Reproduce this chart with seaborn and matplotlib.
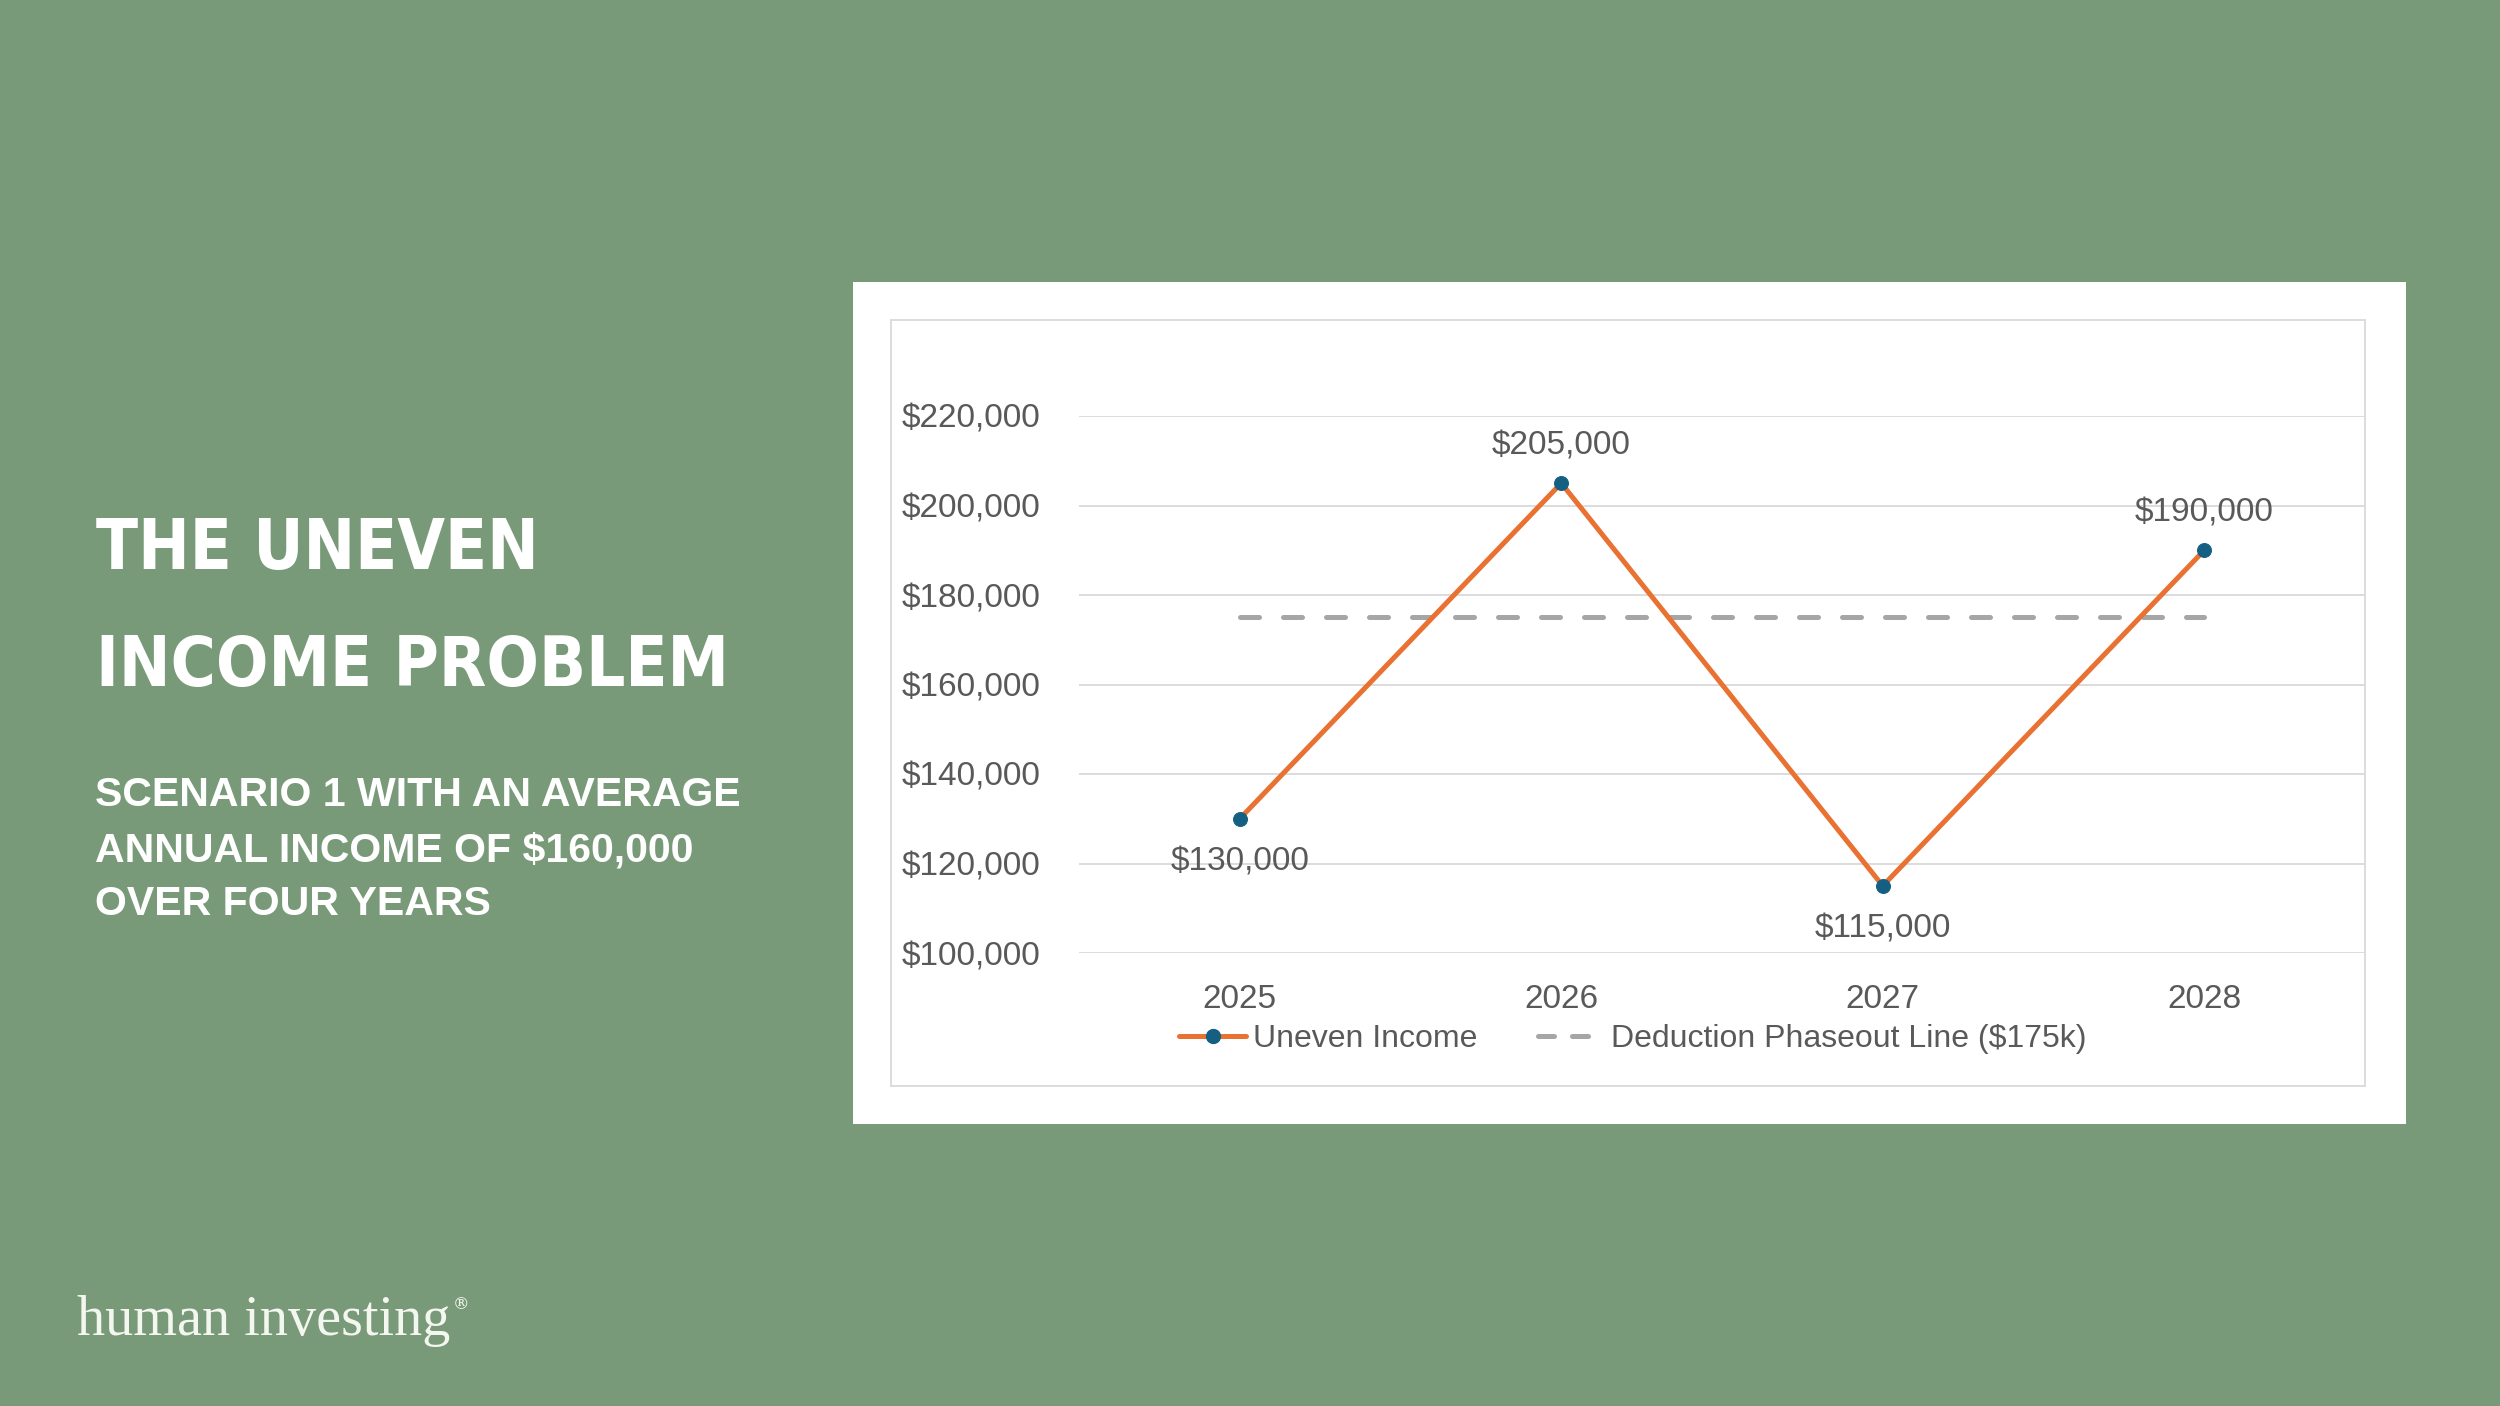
import matplotlib
matplotlib.use("Agg")
import matplotlib.pyplot as plt
from matplotlib.lines import Line2D
from matplotlib.patches import Rectangle
from matplotlib import font_manager
import seaborn as sns
import pandas as pd

# --- data ---
years = ["2025", "2026", "2027", "2028"]
income = [130000, 205000, 115000, 190000]
phaseout = [175000, 175000, 175000, 175000]
label_side = ["below", "above", "below", "above"]
y_ticks = [100000, 120000, 140000, 160000, 180000, 200000, 220000]

BG = "#789a78"
ORANGE = "#e97132"
NAVY = "#156082"
GREY_LINE = "#a6a6a6"
GRID = "#d9d9d9"
TXT = "#595959"
DASH = (3.8, 4.8)

W, H = 2500, 1406
sns.set_theme(style="white")
plt.rcParams["font.family"] = ["Liberation Sans", "DejaVu Sans"]

fig = plt.figure(figsize=(W / 100, H / 100), dpi=100, facecolor=BG)


def fx(px):
    return px / W


def fy(py):
    return 1 - py / H


# white card and inner chart border
fig.patches.append(Rectangle((fx(853), fy(1124)), fx(2406) - fx(853), fy(282) - fy(1124),
                             transform=fig.transFigure, facecolor="white", edgecolor="none", zorder=-3))
fig.patches.append(Rectangle((fx(891), fy(1086)), fx(2365) - fx(891), fy(320) - fy(1086),
                             transform=fig.transFigure, facecolor="white", edgecolor=GRID, lw=1.3, zorder=-2))

ax = fig.add_axes([fx(1079), fy(953), fx(2365) - fx(1079), fy(416) - fy(953)])
ax.set_facecolor("none")
ax.set_zorder(1)

df = pd.DataFrame({"year": years, "income": income, "phaseout": phaseout})

sns.lineplot(data=df, x="year", y="phaseout", ax=ax, color=GREY_LINE, lw=3.6, sort=False, zorder=2)
ax.lines[-1].set_dashes(DASH)
ax.lines[-1].set_dash_capstyle("round")
ax.lines[-1].set_clip_on(False)
sns.lineplot(data=df, x="year", y="income", ax=ax, color=ORANGE, lw=3.6, sort=False,
             marker="o", markersize=10, markerfacecolor=NAVY, markeredgecolor=NAVY, zorder=3)
ax.lines[-1].set_clip_on(False)

for i, (v, side) in enumerate(zip(income, label_side)):
    off = 27 if side == "above" else -31
    ax.annotate(f"${v:,.0f}", (i, v), xytext=(0, off), textcoords="offset points",
                ha="center", va="center", fontsize=24, color=TXT)

ax.set_xlim(-0.5, len(years) - 0.5)
ax.set_ylim(y_ticks[0], y_ticks[-1])
ax.set_yticks(y_ticks)
ax.set_yticklabels([f"${t:,.0f}" for t in y_ticks])
ax.yaxis.grid(True, color=GRID, lw=1.3)
ax.xaxis.grid(False)
for s in ax.spines.values():
    s.set_visible(False)
ax.tick_params(axis="y", length=0, pad=28, labelsize=24, labelcolor=TXT)
ax.tick_params(axis="x", length=0, pad=22, labelsize=24, labelcolor=TXT)
ax.set_xlabel("")
ax.set_ylabel("")

handles = [
    Line2D([], [], color=ORANGE, lw=3.6, marker="o", markersize=10,
           markerfacecolor=NAVY, markeredgecolor=NAVY),
    Line2D([], [], color=GREY_LINE, lw=3.6, dashes=(3.2, 3.6), dash_capstyle="round"),
]
fig.legend(handles, ["Uneven Income", "Deduction Phaseout Line ($175k)"],
           loc="center", bbox_to_anchor=(fx(1633), fy(1039)), ncol=2, frameon=False,
           fontsize=23, labelcolor=TXT, handlelength=2.1, handletextpad=0.2,
           columnspacing=1.9, numpoints=1)

# left side text: pick a narrow face if one is installed, bold preferred
cands = []
for f in font_manager.fontManager.ttflist:
    nm = f.name.lower()
    if f.style == "normal" and ("narrow" in nm or "condensed" in nm
                                or f.stretch in ("condensed", "semi-condensed", "extra-condensed")):
        bold = f.weight in (700, "bold")
        cands.append((0 if bold else 1, f.fname))
cands.sort()
if cands:
    title_prop = font_manager.FontProperties(fname=cands[0][1], size=66)
else:
    title_prop = font_manager.FontProperties(family="DejaVu Sans", weight="bold", size=66)

t1 = fig.text(fx(96), fy(569), "THE UNEVEN", fontproperties=title_prop, color="white",
              va="baseline", ha="left")
t2 = fig.text(fx(96), fy(686), "INCOME PROBLEM", fontproperties=title_prop, color="white",
              va="baseline", ha="left")
# size the title so the longer line spans the same width as the reference
r = fig.canvas.get_renderer()
wpx = t2.get_window_extent(r).width
new_size = min(82, 66 * 632 / wpx)
t1.set_fontsize(new_size)
t2.set_fontsize(new_size)

sub_lines = ["SCENARIO 1 WITH AN AVERAGE", "ANNUAL INCOME OF $160,000", "OVER FOUR YEARS"]
for line, base in zip(sub_lines, [806, 861, 915]):
    fig.text(fx(95), fy(base), line, fontsize=29.5, fontweight="bold", color="white",
             va="baseline", ha="left")

logo = fig.text(fx(77), fy(1335), "human investing", family=["Liberation Serif", "DejaVu Serif"],
                fontsize=40.5, color="#f4f6f0", va="baseline", ha="left")
ax.annotate("®", xy=(1, 0.97), xycoords=logo, xytext=(2, 0), textcoords="offset points",
            family=["DejaVu Serif"], fontsize=12, color="#f4f6f0", va="top", ha="left",
            annotation_clip=False)

fig.savefig("out.png", dpi=100, facecolor=BG)
